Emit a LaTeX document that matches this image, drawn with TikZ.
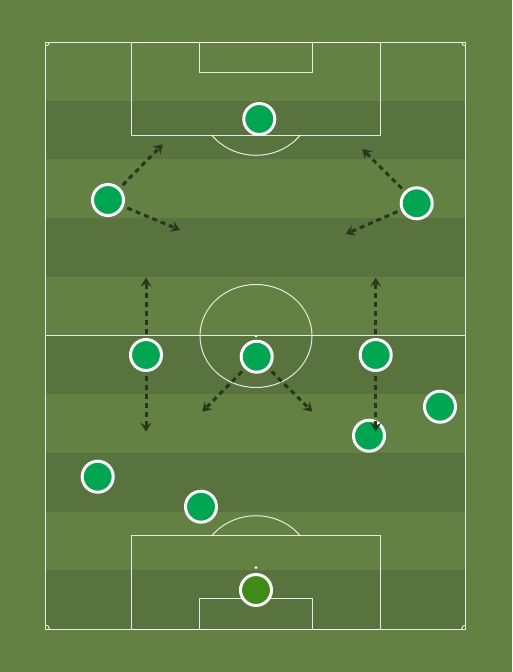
\documentclass[tikz,border=0pt]{standalone}
\usepackage{tikz}
\usetikzlibrary{arrows.meta,shadows}

\definecolor{grass}{RGB}{99,129,66}
\definecolor{grassdark}{RGB}{88,115,61}
\definecolor{shirt}{RGB}{0,166,81}
\definecolor{keeper}{RGB}{62,139,22}
\definecolor{runline}{RGB}{40,54,30}

\begin{document}
\begin{tikzpicture}[x=1pt,y=-1pt,
  pitchline/.style={white, opacity=0.85, line width=1pt},
  player/.style={circle, draw=white, line width=3pt, fill=shirt, inner sep=0pt, minimum size=31pt,
    drop shadow={shadow xshift=0.6pt, shadow yshift=-1.2pt, opacity=0.25}},
  run/.style={runline, line width=3pt, dash pattern=on 5pt off 4pt, shorten <=4pt,
    -{Stealth[length=9pt,width=11pt,inset=3.5pt]}}]
% grass and stripes
\fill[grass] (0,0) rectangle (512,672);
\foreach \i in {1,3,5,7,9}
  \fill[grassdark] (46,42+\i*58.7) rectangle (466,42+\i*58.7+58.7);
% pitch markings
\draw[pitchline] (45.5,42) rectangle (465.7,629);
\draw[pitchline] (45.5,335.5) -- (465.7,335.5);
\draw[pitchline] (256,336) ellipse [x radius=56, y radius=51.5];
\draw[pitchline] (131.3,42) rectangle (380.7,135.3);
\draw[pitchline] (131.3,535.7) rectangle (380.7,629);
\draw[pitchline] (199.3,42) rectangle (312.3,72.7);
\draw[pitchline] (199.3,598.3) rectangle (312.3,629);
\begin{scope}
  \clip (0,135.3) rectangle (512,300);
  \draw[pitchline] (256,103.3) ellipse [x radius=56, y radius=52];
\end{scope}
\begin{scope}
  \clip (0,380) rectangle (512,535.7);
  \draw[pitchline] (256,567.7) ellipse [x radius=56, y radius=52];
\end{scope}
\fill[white] (256,336) circle [radius=1.5];
\fill[white] (256,567.7) circle [radius=1.5];
% corner arcs
\begin{scope}
  \clip (45.5,42) rectangle (465.7,629);
  \foreach \cx/\cy in {45.5/42, 465.7/42, 45.5/629, 465.7/629}
    \draw[pitchline] (\cx,\cy) circle [radius=4];
\end{scope}
% players
\node[player] (st) at (259.3,119) {};
\node[player] (lw) at (108,200) {};
\node[player] (rw) at (416.7,203.3) {};
\node[player] (lcm) at (146,355) {};
\node[player] (cm) at (256.7,356.7) {};
\node[player] (rcm) at (375.7,355) {};
\node[player] (rwb) at (440,406.7) {};
\node[player] (rcb) at (369,435.7) {};
\node[player] (lwb) at (97.7,476.7) {};
\node[player] (lcb) at (201,506.7) {};
\node[player, fill=keeper] (gk) at (256,590) {};
% runs
\coordinate (lw up) at (162.7,144.3);
\coordinate (lw in) at (180,230);
\coordinate (rw up) at (362.3,149);
\coordinate (rw in) at (345.7,234);
\coordinate (lcm up) at (146,277.7);
\coordinate (lcm down) at (146,431.7);
\coordinate (rcm up) at (375.7,277.7);
\coordinate (rcm down) at (375.7,431.7);
\coordinate (cm left) at (202.3,411.7);
\coordinate (cm right) at (312.3,411.7);
\draw[run] (lw) -- (lw up);
\draw[run] (lw) -- (lw in);
\draw[run] (rw) -- (rw up);
\draw[run] (rw) -- (rw in);
\draw[run] (lcm) -- (lcm up);
\draw[run] (lcm) -- (lcm down);
\draw[run] (rcm) -- (rcm up);
\draw[run] (rcm) -- (rcm down);
\draw[run] (cm) -- (cm left);
\draw[run] (cm) -- (cm right);
\end{tikzpicture}
\end{document}
